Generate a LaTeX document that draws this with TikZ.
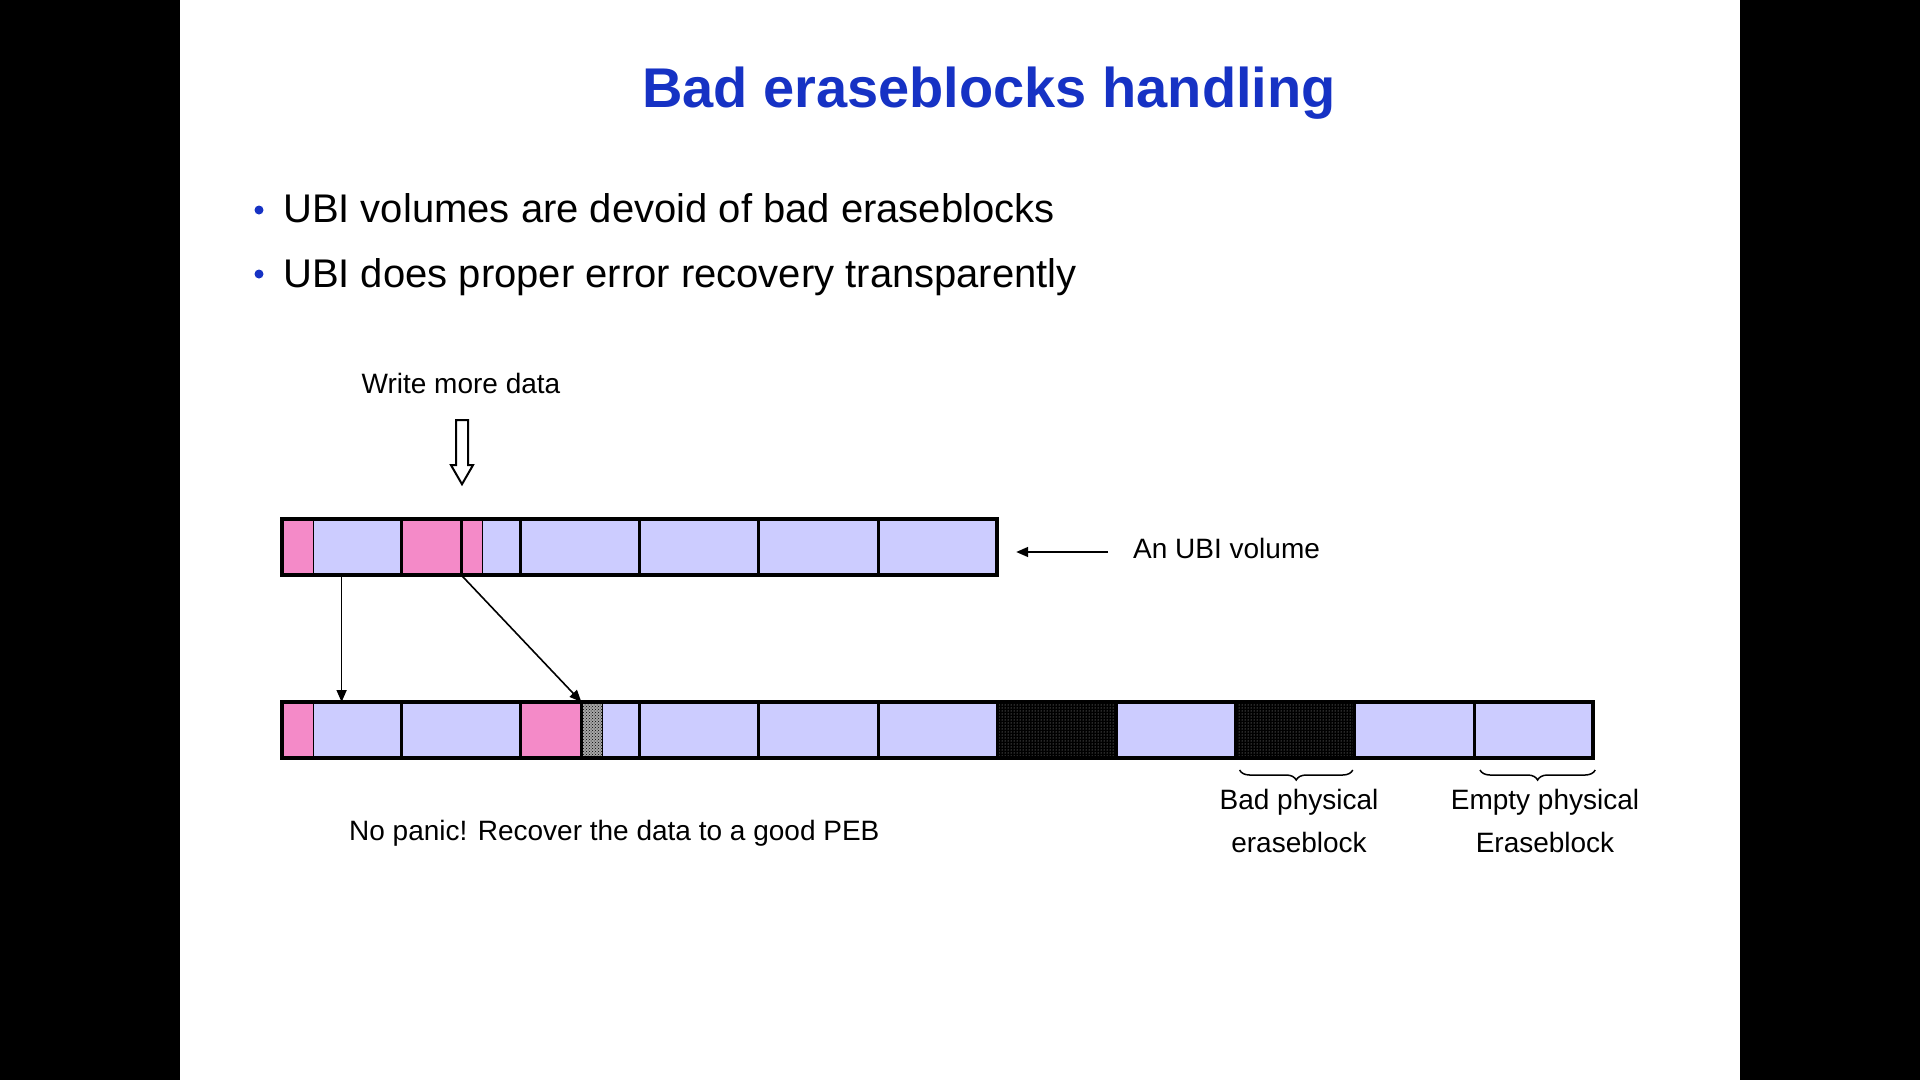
\documentclass[tikz,border=0pt]{standalone}
\usepackage{fontspec}
\setmainfont{Liberation Sans}
\usetikzlibrary{arrows.meta, positioning, shapes.arrows, patterns, decorations.pathreplacing}

\definecolor{titleblue}{RGB}{22,50,196}
\definecolor{lebpink}{RGB}{244,138,200}
\definecolor{lebfree}{RGB}{204,204,255}

\begin{document}
\begin{tikzpicture}[
        x=1pt, y=-1pt,
        blk/.style={rectangle, fill=lebfree, minimum width=119.2pt, minimum height=56pt, inner sep=0pt, outer sep=0pt},
        pinkbig/.style={rectangle, draw=black, line width=3pt, fill=lebpink, minimum height=56pt, inner sep=0pt, outer sep=0pt, anchor=north west},
        pinksmall/.style={rectangle, draw=black, line width=0.8pt, fill=lebpink, minimum height=56pt, inner sep=0pt, outer sep=0pt, anchor=north west},
        hatch/.style={rectangle, draw=black, line width=0.8pt, preaction={fill=black!35}, pattern=crosshatch dots, minimum height=56pt, inner sep=0pt, outer sep=0pt, anchor=north west},
        badblk/.style={blk, preaction={fill=black}, pattern=dots, pattern color=white!70!black},
        divider/.style={line width=3pt},
        frame/.style={line width=4pt},
        arrow/.style={-{Triangle[length=12pt, width=10pt]}, line width=1.6pt},
        brc/.style={decorate, decoration={brace, mirror, amplitude=10pt}, line width=1.5pt},
        lbl/.style={font=\fontsize{28}{43}\selectfont, inner sep=0pt},
        item/.style={anchor=base west, font=\fontsize{40}{48}\selectfont, inner sep=0pt},
        dot/.style={circle, fill=titleblue, minimum size=9pt, inner sep=0pt},
        hollow/.style={single arrow, draw=black, line width=2pt, fill=white, inner sep=5pt, minimum height=64pt, single arrow head extend=5pt, single arrow tip angle=60, shape border rotate=270}
    ]
    \useasboundingbox (0,0) rectangle (1920,1080);
    \fill[black] (0,0) rectangle (180,1080);
    \fill[black] (1740,0) rectangle (1920,1080);

    \node (title) [anchor=base, text=titleblue, font=\bfseries\fontsize{56}{66}\selectfont] at (989,107) {Bad eraseblocks handling};
    \node (item1) [item] at (283,222) {UBI volumes are devoid of bad eraseblocks};
    \node (item2) [item] at (283,287) {UBI does proper error recovery transparently};
    \node (dot1) [dot] at (259,210) {};
    \node (dot2) [dot] at (259,274) {};

    \node (write) [lbl, anchor=base] at (461,393) {Write more data};
    \node (writearr) [hollow] at (462,447) {};

    % the volume and the flash below it
    \foreach \i in {1,...,6}
        \node (t\i) [blk] at ({282+119.2*(\i-0.5)},547) {};
    \foreach \i in {1,...,11}
        \node (b\i) [blk] at ({282+119.2*(\i-0.5)},730) {};

    \node (tfirst) [pinksmall, minimum width=31pt] at (t1.north west) {};
    \node (tpeb) [pinkbig, minimum width=60pt] at (t2.north west) {};
    \node (tnext) [pinksmall, minimum width=20pt, right=1pt of tpeb] {};

    \node (bfirst) [pinksmall, minimum width=31pt] at (b1.north west) {};
    \node (bpeb) [pinkbig, minimum width=61pt] at (b3.north west) {};
    \node (bcopy) [hatch, minimum width=20pt, right=1pt of bpeb] {};
    \node (bad1) [badblk] at (b7) {};
    \node (bad2) [badblk] at (b9) {};

    \foreach \i in {1,...,6}
        \draw[divider] (t\i.north west) rectangle (t\i.south east);
    \foreach \i in {1,...,11}
        \draw[divider] (b\i.north west) rectangle (b\i.south east);
    \draw[frame] (t1.north west) rectangle (t6.south east);
    \draw[frame] (b1.north west) rectangle (b11.south east);

    \draw[arrow] (t1.south) -- (b1.north);
    \draw[arrow] (tpeb.south east) -- (bpeb.north east);

    \node (ubi) [lbl, anchor=base west] at (1133,558) {An UBI volume};
    \coordinate (ubitail) at ([xshift=-25pt, yshift=-4pt]ubi.west);
    \draw[arrow, shorten >=19pt] (ubitail) -- (ubitail -| t6.east);

    \draw[brc] ([xshift=4pt, yshift=-12pt]bad2.south west) -- ([xshift=-2pt, yshift=-12pt]bad2.south east);
    \draw[brc] ([xshift=6pt, yshift=-12pt]b11.south west) -- ([xshift=2pt, yshift=-12pt]b11.south east);

    \node (badlbl) [lbl, align=center] at (1299,821) {Bad physical\\eraseblock};
    \node (emptylbl) [lbl, align=center] at (1545,821) {Empty physical\\Eraseblock};
    \node (panic) [lbl, anchor=base west] at (349,840) {No panic! Recover the data to a good PEB};
\end{tikzpicture}
\end{document}
